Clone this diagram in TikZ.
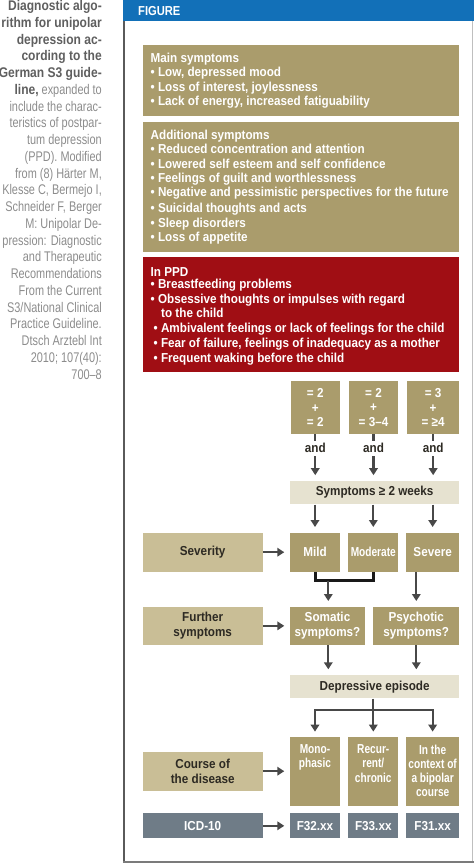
\documentclass[tikz,border=0pt]{standalone}
\usepackage{fontspec}
\setmainfont{Liberation Sans}
\newfontfamily\capreg{Liberation Sans}[FakeStretch=0.78]
\newfontfamily\capbld{Liberation Sans}[FakeStretch=0.86]
\newfontfamily\boxf{Liberation Sans}[FakeStretch=0.9]
\newfontfamily\narrowf{Liberation Sans}[FakeStretch=0.78]
\usetikzlibrary{arrows.meta}
\definecolor{hdrblue}{RGB}{18,112,184}
\definecolor{tan}{RGB}{170,156,108}
\definecolor{lighttan}{RGB}{201,190,150}
\definecolor{beige}{RGB}{230,226,208}
\definecolor{ppdred}{RGB}{160,14,20}
\definecolor{slate}{RGB}{111,124,135}
\definecolor{capdark}{RGB}{95,95,95}
\definecolor{capgrey}{RGB}{140,140,140}
\definecolor{darktext}{RGB}{45,42,35}
\definecolor{arrowgrey}{RGB}{72,72,72}
\definecolor{framegrey}{RGB}{90,90,90}
\tikzset{
  capb/.style={anchor=base east, inner sep=0pt, text=capdark, font=\capbld\bfseries\fontsize{14}{16}\selectfont},
  capr/.style={anchor=base east, inner sep=0pt, text=capgrey, font=\capreg\fontsize{14}{16}\selectfont},
  bl/.style={anchor=base west, inner sep=0pt, text=white, font=\boxf\bfseries\fontsize{13}{15}\selectfont},
  fbox/.style={inner sep=0pt, align=center, font=\boxf\bfseries\fontsize{13}{14.5}\selectfont},
  darkbox/.style={fbox, fill=tan, text=white},
  lightbox/.style={fbox, fill=lighttan, text=darktext},
  beigebox/.style={fbox, fill=beige, text=darktext},
  slatebox/.style={fbox, fill=slate, text=white},
  andlabel/.style={inner sep=0pt, minimum height=15pt, text=darktext, font=\boxf\bfseries\fontsize{13}{15}\selectfont},
  arr/.style={draw=arrowgrey, line width=2.2pt, -{Triangle[length=7pt,width=8.5pt]}, shorten >=5.5pt},
  plainline/.style={draw=arrowgrey, line width=2.2pt},
  bracket/.style={draw=black!90, line width=3pt}
}
\begin{document}
\begin{tikzpicture}[x=1pt,y=-1pt]
\useasboundingbox (0,0) rectangle (474,863);
% ---------- caption ----------
\node[capb] (t0) at (102,10.6) {Diagnostic algo-};
\node[capb] (t1) at (102,27.35) {rithm for unipolar};
\node[capb] (t2) at (102,44.1) {depression ac-};
\node[capb] (t3) at (102,60.85) {cording to the};
\node[capb] (t4) at (102,77.6) {German S3 guide-};
\node[capr] (t5) at (102,94.35) {{\capbld\bfseries\color{capdark}line,} expanded to};
\node[capr] (t6) at (102,111.1) {include the charac-};
\node[capr] (t7) at (102,127.85) {teristics of postpar-};
\node[capr] (t8) at (102,144.6) {tum depression};
\node[capr] (t9) at (102,161.35) {(PPD). Modified};
\node[capr] (t10) at (102,178.1) {from (8) Härter M,};
\node[capr] (t11) at (102,194.85) {Klesse C, Bermejo I,};
\node[capr] (t12) at (102,211.6) {Schneider F, Berger};
\node[capr] (t13) at (102,228.35) {M: Unipolar De-};
\node[capr] (t14) at (102,245.1) {pression: Diagnostic};
\node[capr] (t15) at (102,261.85) {and Therapeutic};
\node[capr] (t16) at (102,278.6) {Recommendations};
\node[capr] (t17) at (102,295.35) {From the Current};
\node[capr] (t18) at (102,312.1) {S3/National Clinical};
\node[capr] (t19) at (102,328.85) {Practice Guideline.};
\node[capr] (t20) at (102,345.6) {Dtsch Arztebl Int};
\node[capr] (t21) at (102,362.35) {2010; 107(40):};
\node[capr] (t22) at (102,379.1) {700–8};
% ---------- frame ----------
\fill[hdrblue] (123,0) rectangle (474,21);
\node[anchor=west, inner sep=0pt, text=white, font=\capbld\bfseries\fontsize{13}{15}\selectfont] (fig) at (138,11) {FIGURE};
\draw[framegrey, line width=1.6pt] (124,21) -- (124,862.5);
\draw[framegrey!80, line width=2pt] (123.2,861.5) -- (474,861.5);
\draw[black!25, line width=1pt] (472.3,21) -- (472.3,861);
% ---------- symptom boxes ----------
\fill[tan] (143,45) rectangle (459.3,116);
\node[bl] (m0) at (150.5,62.5) {Main symptoms};
\node[bl] (m1) at (150.5,76.5) {• Low, depressed mood};
\node[bl] (m2) at (150.5,91) {• Loss of interest, joylessness};
\node[bl] (m3) at (150.5,105.5) {• Lack of energy, increased fatiguability};
\fill[tan] (143,122) rectangle (459.3,251.5);
\node[bl] (a0) at (150.5,139.3) {Additional symptoms};
\node[bl] (a1) at (150.5,153.8) {• Reduced concentration and attention};
\node[bl] (a2) at (150.5,168) {• Lowered self esteem and self confidence};
\node[bl] (a3) at (150.5,182.5) {• Feelings of guilt and worthlessness};
\node[bl] (a4) at (150.5,196.8) {• Negative and pessimistic perspectives for the future};
\node[bl] (a5) at (150.5,212) {• Suicidal thoughts and acts};
\node[bl] (a6) at (150.5,227) {• Sleep disorders};
\node[bl] (a7) at (150.5,241) {• Loss of appetite};
\fill[ppdred] (143,257) rectangle (459.3,371.5);
\node[bl] (p0) at (150.5,276) {In PPD};
\node[bl] (p1) at (150.5,288.5) {• Breastfeeding problems};
\node[bl] (p2) at (150.5,303.3) {• Obsessive thoughts or impulses with regard};
\node[bl] (p3) at (161,317.6) {to the child};
\node[bl] (p4) at (153.5,332.6) {• Ambivalent feelings or lack of feelings for the child};
\node[bl] (p5) at (153.5,347.6) {• Fear of failure, feelings of inadequacy as a mother};
\node[bl] (p6) at (153.5,362) {• Frequent waking before the child};
% ---------- flow ----------
\node[darkbox, minimum width=49.5pt, minimum height=53pt] (c1) at (315.25,407.5) {= 2\\+\\= 2};
\node[darkbox, minimum width=49pt, minimum height=53pt] (c2) at (373.5,407.5) {= 2\\+\\= 3–4};
\node[darkbox, minimum width=52.3pt, minimum height=53pt] (c3) at (433.15,407.5) {= 3\\+\\= ≥4};
\node[andlabel] (and1) at (315.25,448.3) {and};
\node[andlabel] (and2) at (373.5,448.3) {and};
\node[andlabel] (and3) at (433.15,448.3) {and};
\node[beigebox, minimum width=169.3pt, minimum height=23.5pt] (sym) at (374.65,492.6) {Symptoms ≥ 2 weeks};
\draw[plainline] (c1.south) -- (and1.north);
\draw[plainline] (c2.south) -- (and2.north);
\draw[plainline] (c3.south) -- (and3.north);
\draw[arr] (and1.south) -- (and1.south |- sym.north);
\draw[arr] (and2.south) -- (and2.south |- sym.north);
\draw[arr] (and3.south) -- (and3.south |- sym.north);

\node[lightbox, minimum width=120pt, minimum height=39pt] (sev) at (202.7,552.2) {Severity};
\node[darkbox, minimum width=50pt, minimum height=39pt] (mild) at (315,552.2) {Mild};
\node[darkbox, minimum width=50pt, minimum height=39pt, font=\narrowf\bfseries\fontsize{13}{14.5}\selectfont] (mod) at (373.3,552.2) {Moderate};
\node[darkbox, minimum width=53.3pt, minimum height=39pt] (sevr) at (432.65,552.2) {Severe};
\draw[arr] (sym.south -| mild) -- (mild.north);
\draw[arr] (sym.south -| mod) -- (mod.north);
\draw[arr] (sym.south -| sevr) -- (sevr.north);
\draw[arr] (sev.east) -- (mild.west);

\node[lightbox, minimum width=120pt, minimum height=38.3pt] (fur) at (202.7,625.85) {Further\\symptoms};
\node[darkbox, minimum width=75pt, minimum height=38.3pt] (som) at (327.5,625.85) {Somatic\\symptoms?};
\node[darkbox, minimum width=86pt, minimum height=38.3pt] (psy) at (416.3,625.85) {Psychotic\\symptoms?};
\coordinate (brk) at (328.3,580.7);
\draw[bracket] (mild.south) |- (brk) -| (mod.south);
\draw[arr] (brk) -- (brk |- som.north);
\draw[arr] (sevr.south -| psy) -- (psy.north);
\draw[arr] (fur.east) -- (som.west);

\node[beigebox, minimum width=169.3pt, minimum height=23.3pt] (dep) at (374.65,686.65) {Depressive episode};
\draw[arr] (som.south -| brk) -- (dep.north -| brk);
\draw[arr] (psy.south) -- (psy.south |- dep.north);

\node[darkbox, minimum width=50pt, minimum height=68.7pt] (mono) at (315,771.65) {};
\node[darkbox, minimum width=50pt, minimum height=68.7pt] (rec) at (373.3,771.65) {};
\node[darkbox, minimum width=53.3pt, minimum height=68.7pt] (bip) at (432.65,771.65) {};
\node[anchor=north, inner sep=0pt, align=center, text=white, font=\narrowf\bfseries\fontsize{13}{14.2}\selectfont] (monot) at (mono.north |- 0,744.5) {Mono-\\phasic};
\node[anchor=north, inner sep=0pt, align=center, text=white, font=\narrowf\bfseries\fontsize{13}{14.2}\selectfont] (rect) at (rec.north |- 0,744.5) {Recur-\\rent/\\chronic};
\node[anchor=north, inner sep=0pt, align=center, text=white, font=\narrowf\bfseries\fontsize{13}{14.2}\selectfont] (bipt) at (bip.north |- 0,744.5) {In the\\context of\\a bipolar\\course};
\coordinate (split) at (373.3,710);
\draw[arr, {Triangle[length=7pt,width=8.5pt]}-{Triangle[length=7pt,width=8.5pt]}, shorten <=5.5pt] (mono.north) |- (split) -| (bip.north);
\draw[arr] (dep.south -| rec) -- (rec.north);

\node[lightbox, minimum width=120pt, minimum height=39pt] (course) at (202.7,771.2) {Course of\\the disease};
\draw[arr] (course.east) -- (mono.west |- course.east);

\node[slatebox, minimum width=120pt, minimum height=25pt] (icd) at (202.7,825.8) {ICD-10};
\node[slatebox, minimum width=50pt, minimum height=25pt] (f32) at (315,825.8) {F32.xx};
\node[slatebox, minimum width=50pt, minimum height=25pt] (f33) at (373.3,825.8) {F33.xx};
\node[slatebox, minimum width=53.3pt, minimum height=25pt] (f31) at (432.65,825.8) {F31.xx};
\draw[arr] (icd.east) -- (f32.west);
\end{tikzpicture}
\end{document}
